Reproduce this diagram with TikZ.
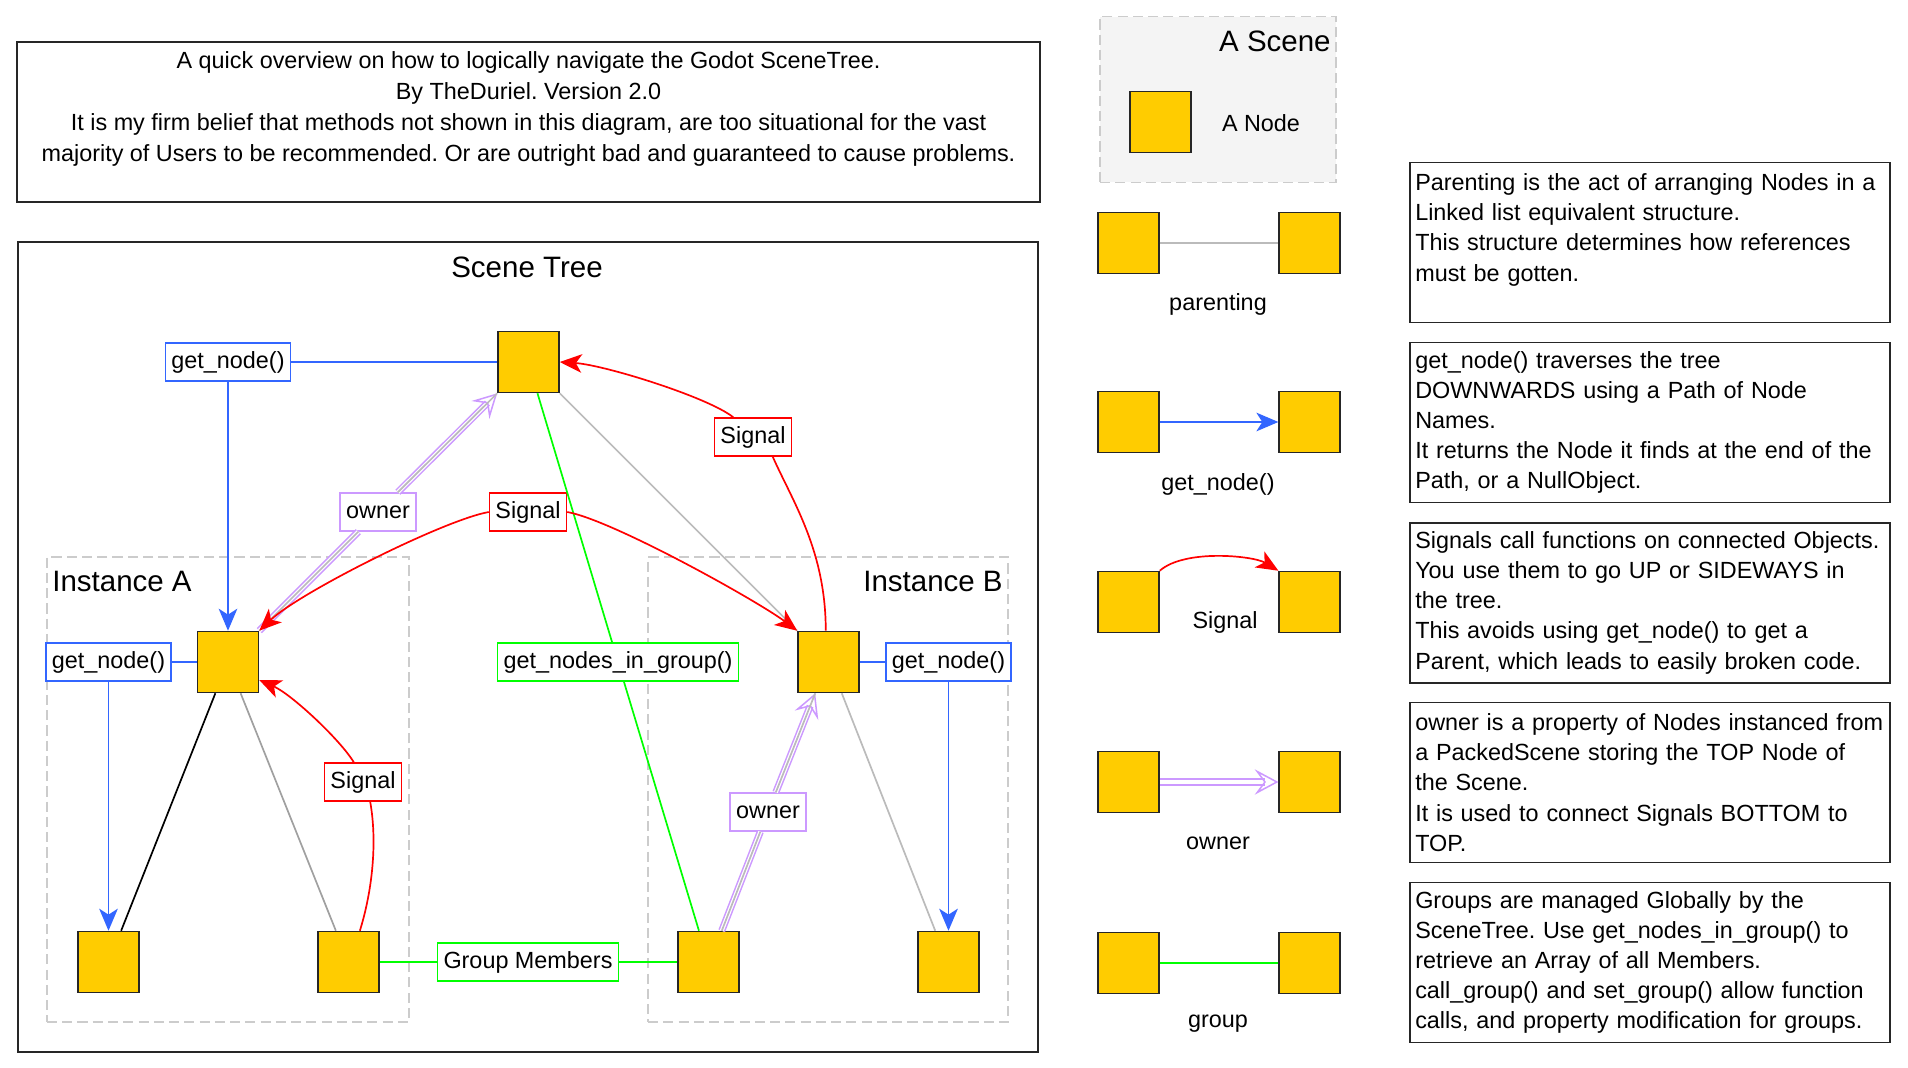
\documentclass[tikz,border=0pt]{standalone}
\usepackage{fontspec}
\setmainfont{Liberation Sans}
\frenchspacing
\usetikzlibrary{arrows.meta,positioning,calc}
\definecolor{nodeyellow}{HTML}{FFCC00}
\definecolor{getblue}{HTML}{3366FF}
\definecolor{sigred}{HTML}{FF0000}
\definecolor{grpgreen}{HTML}{00FF00}
\definecolor{ownpurple}{HTML}{CC99FF}
\definecolor{parentgray}{HTML}{BBBBBB}
\definecolor{darkparent}{HTML}{A0A0A0}
\definecolor{clustergray}{HTML}{CCCCCC}
\definecolor{scenefill}{HTML}{F4F4F4}
\newcommand{\txtfont}{\fontsize{13.8}{17.8}\selectfont}
\newcommand{\bigfont}{\fontsize{17.4}{20}\selectfont}
\tikzset{
scnode/.style = {draw=black!85, fill=nodeyellow, rectangle, minimum size=36pt, inner sep=0pt, line width=0.9pt},
elabel/.style = {draw, fill=white, rectangle, inner xsep=3.5pt, inner ysep=0pt, minimum height=22.4pt, line width=0.9pt},
desc/.style = {draw=black!85, rectangle, align=left, text width=277pt, inner xsep=3pt, minimum height=94.4pt, line width=0.9pt},
cluster/.style = {draw=clustergray, dash pattern=on 6pt off 3pt, rectangle, line width=0.9pt, inner sep=0pt},
frame/.style = {draw=black!85, rectangle, line width=0.9pt},
getline/.style = {draw=getblue, line width=1pt},
sigline/.style = {draw=sigred, line width=1pt},
grpline/.style = {draw=grpgreen, line width=1pt},
parline/.style = {draw=parentgray, line width=1pt},
ownline/.style = {draw=ownpurple, double=white, double distance=2.4pt, line width=0.9pt},
owntip/.style = {-{Stealth[open, length=14pt, width=15pt, inset=5.5pt, line width=0.9pt]}}
}
\begin{document}
\begin{tikzpicture}[x=0.59pt, y=-0.59pt, >={Stealth[length=13pt,width=11pt,inset=3.5pt]}, every node/.style={font=\txtfont}]
    \useasboundingbox (0,0) rectangle (1908,1068);

    % intro and frames
    \node[frame, minimum width=603.6pt, minimum height=94.4pt, align=center, font=\fontsize{13.8}{18.3}\selectfont] (intro) at (528.5,122) {A quick overview on how to logically navigate the Godot SceneTree.\\ By TheDuriel. Version 2.0\\ It is my firm belief that methods not shown in this diagram, are too situational for the vast\\ majority of Users to be recommended. Or are outright bad and guaranteed to cause problems.\\ \mbox{}};
    \node[frame, minimum width=601.8pt, minimum height=477.9pt] (treebox) at (528,647) {};
    \node[font=\bigfont] (treetitle) at (527,267) {Scene Tree};
    \node[cluster, minimum width=213.6pt, minimum height=274.4pt] (instA) at (228,789.5) {};
    \node[font=\bigfont, anchor=west, inner sep=0pt] (instAtitle) at (52,581) {Instance A};
    \node[cluster, minimum width=212.4pt, minimum height=274.4pt] (instB) at (828,789.5) {};
    \node[font=\bigfont, anchor=east, inner sep=0pt] (instBtitle) at (1003,581) {Instance B};

    % scene nodes
    \node[scnode] (root) at (528.5,362) {};
    \node[scnode] (A1) at (228,662) {};
    \node[scnode] (A2) at (108.5,962) {};
    \node[scnode] (A3) at (348.5,962) {};
    \node[scnode] (B1) at (828.5,662) {};
    \node[scnode] (B2) at (708.5,962) {};
    \node[scnode] (B3) at (948.5,962) {};

    % edge labels
    \node[elabel, draw=getblue] (gnTop) at (228,362) {get\_node()};
    \node[elabel, draw=getblue] (gnA) at (108.5,662) {get\_node()};
    \node[elabel, draw=getblue] (gnB) at (948.5,662) {get\_node()};
    \node[elabel, draw=grpgreen] (grpIn) at (618,662) {get\_nodes\_in\_group()};
    \node[elabel, draw=grpgreen] (grpMem) at (528,962) {Group Members};
    \node[elabel, draw=ownpurple] (ownA) at (378,512) {owner};
    \node[elabel, draw=ownpurple] (ownB) at (768,812) {owner};
    \node[elabel, draw=sigred] (sigTop) at (753,437) {Signal};
    \node[elabel, draw=sigred] (sigMid) at (528,512) {Signal};
    \node[elabel, draw=sigred] (sigA) at (363,782) {Signal};

    % get_node
    \draw[getline] (root) -- (gnTop);
    \draw[getline,->] (gnTop) -- (A1);
    \draw[getline] (A1) -- (gnA);
    \draw[getline,->] (gnA) -- (A2);
    \draw[getline] (B1) -- (gnB);
    \draw[getline,->] (gnB) -- (B3);

    % owner
    \draw[ownline] (A1.north east) -- (ownA);
    \draw[ownline,owntip] (ownA) -- (root.south west);
    \draw[ownline] (B2.67) -- (ownB);
    \draw[ownline,owntip] (ownB) -- (B1.-113);

    % parenting
    \draw[parline] (root.south west) -- (ownA);
    \draw[parline] (ownA) -- (A1.north east);
    \draw[parline] (root.south east) -- (B1.north west);
    \draw[black, line width=1pt] (A1.-112) -- (A2.68);
    \draw[parline, draw=darkparent] (A1.-68) -- (A3.112);
    \draw[parline] (B1.-113) -- (ownB);
    \draw[parline] (ownB) -- (B2.67);
    \draw[parline] (B1.-67) -- (B3.113);

    % groups
    \draw[grpline] (root.-74) -- (grpIn);
    \draw[grpline] (grpIn) -- (B2.107);
    \draw[grpline] (A3) -- (grpMem);
    \draw[grpline] (grpMem) -- (B2);

    % signals
    \draw[sigline] (A3.70) .. controls +(13,-42) and +(7,39) .. (sigA.-70);
    \draw[sigline,->] (sigA.115) .. controls +(-14,-23) and +(32,14) .. (A1.-30);
    \draw[sigline] (B1.95) .. controls +(0,-80) and +(20,45) .. (sigTop.-45);
    \draw[sigline,->] (sigTop.135) .. controls +(-25,-20) and +(45,3) .. (root.east);
    \draw[sigline,->] (sigMid.west) .. controls +(-45,8) and +(40,-38) .. (A1.north east);
    \draw[sigline,->] (sigMid.east) .. controls +(45,8) and +(-40,-30) .. (B1.north west);

    % legend
    \node[cluster, fill=scenefill, minimum width=139.2pt, minimum height=97.9pt] (legscene) at (1218,99.5) {};
    \node[font=\bigfont, anchor=east, inner sep=0pt] (legscenetitle) at (1331,41) {A Scene};
    \node[scnode] (legnode) at (1160.5,122) {};
    \node (legnodetxt) at (1261,123) {A Node};

    \node[scnode] (par1) at (1128.5,243) {};
    \node[scnode, right=70pt of par1] (par2) {};
    \node (partxt) at (1218,304) {parenting};
    \node[scnode] (get1) at (1128.5,422) {};
    \node[scnode, right=70pt of get1] (get2) {};
    \node (gettxt) at (1218,484) {get\_node()};
    \node[scnode] (sig1) at (1128.5,602) {};
    \node[scnode, right=70pt of sig1] (sig2) {};
    \node (sigtxt) at (1225,622) {Signal};
    \node[scnode] (own1) at (1128.5,782) {};
    \node[scnode, right=70pt of own1] (own2) {};
    \node (owntxt) at (1218,843) {owner};
    \node[scnode] (grp1) at (1128.5,963) {};
    \node[scnode, right=70pt of grp1] (grp2) {};
    \node (grptxt) at (1218,1024) {group};

    \draw[parline] (par1) -- (par2);
    \draw[getline,->] (get1) -- (get2);
    \draw[sigline,->] (sig1.north east) .. controls +(25,-22) and +(-25,-15) .. (sig2.north west);
    \draw[ownline,owntip] (own1) -- (own2);
    \draw[grpline] (grp1) -- (grp2);

    % descriptions
    \node[desc] (descpar) at (1650,242.5) {Parenting is the act of arranging Nodes in a\\ Linked list equivalent structure.\\ This structure determines how references\\ must be gotten.\\ \mbox{}};
    \node[desc] (descget) at (1650,422.5) {get\_node() traverses the tree\\ DOWNWARDS using a Path of Node\\ Names.\\ It returns the Node it finds at the end of the\\ Path, or a NullObject.};
    \node[desc] (descsig) at (1650,602.75) {Signals call functions on connected Objects.\\ You use them to go UP or SIDEWAYS in\\ the tree.\\ This avoids using get\_node() to get a\\ Parent, which leads to easily broken code.};
    \node[desc] (descown) at (1650,782.5) {owner is a property of Nodes instanced from\\ a PackedScene storing the TOP Node of\\ the Scene.\\ It is used to connect Signals BOTTOM to\\ TOP.};
    \node[desc] (descgrp) at (1650,962.5) {Groups are managed Globally by the\\ SceneTree. Use get\_nodes\_in\_group() to\\ retrieve an Array of all Members.\\ call\_group() and set\_group() allow function\\ calls, and property modification for groups.};
\end{tikzpicture}
\end{document}
